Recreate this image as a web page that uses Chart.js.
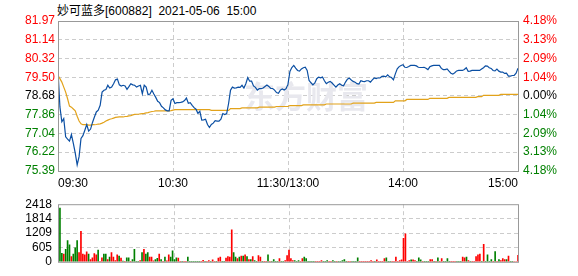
<!DOCTYPE html>
<html>
<head>
<meta charset="utf-8">
<script src="https://cdn.jsdelivr.net/npm/chart.js@4.4.1/dist/chart.umd.min.js"></script>
<style>
  html, body { margin: 0; padding: 0; background: #fff; }
  #wrap { position: relative; width: 578px; height: 276px; overflow: hidden; }
  #title { position: absolute; left: 57px; top: 1px; font: 12px "Liberation Sans", "Noto Sans CJK SC", sans-serif; color: #000; white-space: pre; }
  canvas { position: absolute; left: 0; }
</style>
</head>
<body>
<div id="wrap">
  <div id="title">妙可蓝多[600882]  2021-05-06  15:00</div>
  <canvas id="price" width="578" height="190" style="top:0"></canvas>
  <canvas id="volume" width="578" height="86" style="top:190px"></canvas>
</div>
<script>
// axis ticks
const priceTicks = [75.39, 76.22, 77.04, 77.86, 78.68, 79.50, 80.32, 81.14, 81.97]
const priceTickLabels = ['75.39', '76.22', '77.04', '77.86', '78.68', '79.50', '80.32', '81.14', '81.97']
const pctTickLabels = ['4.18%', '3.13%', '2.09%', '1.04%', '0.00%', '1.04%', '2.09%', '3.13%', '4.18%']
const timeTicks = [0, 60, 120, 180, 240]
const timeLabels = ['09:30', '10:30', '11:30/13:00', '14:00', '15:00']
const volTicks = [0, 605, 1209, 1814, 2418]

// one value per trading minute, 09:30 .. 11:30, 13:01 .. 15:00
const price = [
  79.80, 78.20, 77.55, 77.69, 76.89, 76.79, 76.70, 76.99, 76.60, 76.17, 75.66, 76.02, 76.82, 76.94, 77.18, 77.43, 77.14, 77.23, 77.52, 77.76,
  77.98, 78.06, 78.27, 78.85, 78.93, 78.96, 79.15, 79.03, 79.07, 79.22, 79.39, 79.42, 79.17, 79.12, 79.15, 79.12, 78.97, 79.09, 79.22, 79.17,
  79.15, 79.07, 79.12, 79.15, 78.78, 79.15, 79.07, 78.74, 78.77, 78.93, 78.77, 78.62, 78.45, 78.39, 78.23, 78.16, 78.07, 78.03, 78.03, 78.49,
  78.56, 78.35, 78.39, 78.39, 78.40, 78.42, 78.48, 78.59, 78.36, 78.39, 78.27, 78.17, 78.10, 77.92, 78.01, 77.62, 77.63, 77.66, 77.43, 77.30,
  77.43, 77.49, 77.60, 77.58, 77.58, 77.66, 77.91, 77.87, 77.91, 78.35, 78.93, 79.07, 79.03, 79.04, 79.07, 79.06, 79.15, 79.03, 79.22, 79.49,
  79.33, 79.33, 79.12, 79.06, 78.94, 79.00, 79.00, 79.03, 79.10, 79.16, 79.10, 79.01, 79.01, 78.94, 78.83, 78.80, 78.94, 78.99, 78.94, 79.00,
  79.20, 79.76, 79.93, 80.02, 79.90, 79.80, 79.77, 79.87, 79.92, 79.94, 79.80, 79.36, 79.26, 79.17, 79.25, 79.44, 79.51, 79.48, 79.51, 79.35,
  79.22, 79.28, 79.32, 79.25, 79.16, 79.07, 79.16, 79.22, 79.15, 79.13, 79.29, 79.42, 79.47, 79.38, 79.32, 79.28, 79.22, 79.20, 79.35, 79.32,
  79.31, 79.35, 79.35, 79.29, 79.39, 79.47, 79.44, 79.48, 79.47, 79.54, 79.55, 79.52, 79.61, 79.52, 79.49, 79.39, 79.65, 79.87, 79.97, 80.02,
  80.05, 79.94, 79.93, 79.97, 80.02, 80.02, 80.02, 80.00, 79.94, 79.93, 79.93, 79.94, 79.90, 79.84, 79.96, 80.00, 80.02, 80.02, 80.02, 80.02,
  79.89, 79.84, 79.84, 79.87, 79.77, 79.68, 79.64, 79.70, 79.78, 79.80, 79.80, 79.80, 79.84, 79.92, 79.76, 79.77, 79.80, 79.80, 79.80, 79.80,
  79.80, 79.86, 79.92, 80.00, 79.99, 79.92, 79.89, 79.80, 79.78, 79.86, 79.77, 79.73, 79.73, 79.67, 79.68, 79.55, 79.55, 79.58, 79.58, 79.68, 79.90
]

const avgPrice = [
  79.58, 79.44, 79.29, 79.07, 78.85, 78.56, 78.24, 78.19, 78.11, 78.03, 77.79, 77.58, 77.46, 77.42, 77.42, 77.42, 77.40, 77.40, 77.42, 77.42,
  77.43, 77.45, 77.46, 77.49, 77.53, 77.58, 77.62, 77.66, 77.68, 77.71, 77.74, 77.75, 77.76, 77.76, 77.76, 77.78, 77.79, 77.81, 77.82, 77.85,
  77.87, 77.88, 77.88, 77.90, 77.91, 77.92, 77.94, 77.95, 77.98, 78.00, 78.01, 78.03, 78.03, 78.03, 78.03, 78.03, 78.03, 78.03, 78.03, 78.04,
  78.06, 78.08, 78.08, 78.08, 78.08, 78.08, 78.08, 78.08, 78.08, 78.08, 78.08, 78.08, 78.08, 78.08, 78.08, 78.08, 78.08, 78.08, 78.08, 78.08,
  78.05, 78.05, 78.05, 78.05, 78.05, 78.05, 78.05, 78.05, 78.05, 78.05, 78.13, 78.13, 78.13, 78.13, 78.13, 78.13, 78.16, 78.16, 78.16, 78.16,
  78.16, 78.16, 78.16, 78.16, 78.16, 78.19, 78.19, 78.19, 78.19, 78.19, 78.19, 78.19, 78.19, 78.19, 78.22, 78.22, 78.22, 78.22, 78.22, 78.22,
  78.22, 78.26, 78.26, 78.26, 78.26, 78.26, 78.26, 78.26, 78.29, 78.29, 78.29, 78.29, 78.29, 78.29, 78.29, 78.29, 78.29, 78.29, 78.29, 78.29,
  78.33, 78.33, 78.33, 78.33, 78.33, 78.33, 78.33, 78.33, 78.33, 78.33, 78.33, 78.33, 78.33, 78.33, 78.37, 78.37, 78.37, 78.37, 78.37, 78.37,
  78.37, 78.37, 78.37, 78.37, 78.37, 78.37, 78.40, 78.40, 78.40, 78.40, 78.40, 78.40, 78.40, 78.40, 78.40, 78.40, 78.47, 78.47, 78.47, 78.47,
  78.47, 78.47, 78.53, 78.53, 78.53, 78.53, 78.53, 78.53, 78.53, 78.53, 78.53, 78.53, 78.53, 78.53, 78.58, 78.58, 78.58, 78.58, 78.58, 78.58,
  78.58, 78.58, 78.58, 78.58, 78.62, 78.62, 78.62, 78.62, 78.62, 78.62, 78.62, 78.62, 78.62, 78.62, 78.62, 78.62, 78.62, 78.62, 78.62, 78.65,
  78.65, 78.65, 78.71, 78.71, 78.71, 78.71, 78.71, 78.71, 78.71, 78.71, 78.71, 78.75, 78.75, 78.75, 78.75, 78.75, 78.75, 78.75, 78.75, 78.75, 78.75
]

const volume = [
  2250, 360, 327, 523, 894, 709, 218, 327, 589, 894, 392, 1275, 327, 294, 414, 327, 98, 164, 349, 294,
  490, 22, 164, 327, 327, 98, 196, 392, 196, 55, 294, 240, 153, 33, 22, 164, 164, 22, 98, 523,
  22, 22, 55, 392, 523, 327, 392, 196, 196, 44, 98, 142, 327, 98, 22, 196, 44, 294, 196, 458,
  98, 164, 153, 22, 22, 22, 22, 196, 22, 22, 22, 22, 22, 22, 22, 65, 22, 22, 55, 22,
  87, 22, 22, 153, 196, 22, 22, 153, 218, 196, 1341, 382, 196, 131, 196, 240, 240, 294, 218, 98,
  98, 218, 55, 22, 262, 196, 22, 22, 22, 294, 22, 22, 98, 22, 22, 131, 22, 22, 55, 262,
  490, 131, 55, 55, 22, 55, 22, 131, 196, 131, 22, 22, 22, 22, 22, 22, 22, 55, 22, 22,
  55, 22, 22, 55, 22, 22, 22, 22, 55, 98, 22, 22, 22, 22, 22, 22, 164, 22, 22, 22,
  22, 22, 22, 55, 22, 22, 87, 22, 22, 22, 131, 164, 22, 22, 22, 22, 196, 22, 55, 87,
  981, 1177, 22, 55, 87, 87, 55, 22, 164, 87, 22, 22, 22, 22, 98, 98, 22, 22, 164, 22,
  131, 22, 22, 131, 22, 22, 22, 22, 22, 22, 22, 196, 164, 196, 55, 22, 22, 22, 218, 294,
  327, 22, 730, 22, 294, 22, 98, 22, 425, 22, 98, 55, 131, 98, 98, 240, 22, 22, 0, 0, 273
]

// 1 = traded up (red), 0 = traded down (green)
const volUp = [
  0, 0, 1, 0, 0, 0, 1, 0, 0, 0, 1, 1, 1, 1, 1, 0, 1, 1, 1, 1,
  0, 1, 1, 0, 0, 1, 0, 1, 1, 1, 1, 0, 1, 0, 1, 0, 0, 1, 0, 0,
  0, 0, 1, 0, 1, 0, 0, 1, 1, 1, 0, 0, 1, 0, 1, 0, 1, 1, 0, 0,
  0, 0, 1, 1, 0, 1, 1, 0, 0, 0, 0, 0, 0, 0, 1, 1, 0, 1, 1, 0,
  1, 1, 0, 1, 1, 0, 0, 1, 1, 1, 1, 0, 0, 1, 0, 1, 0, 1, 0, 1,
  0, 1, 0, 0, 1, 1, 0, 1, 1, 0, 1, 0, 0, 0, 0, 1, 0, 0, 1, 1,
  1, 1, 1, 0, 0, 0, 1, 1, 0, 0, 0, 0, 0, 0, 1, 1, 1, 1, 0, 0,
  0, 1, 1, 0, 0, 1, 0, 0, 0, 0, 0, 1, 1, 0, 0, 0, 0, 1, 1, 1,
  1, 1, 1, 1, 1, 0, 1, 1, 1, 1, 1, 0, 0, 0, 1, 1, 1, 1, 1, 1,
  1, 1, 1, 1, 0, 1, 1, 0, 0, 0, 1, 0, 0, 0, 1, 1, 0, 1, 0, 1,
  1, 0, 0, 0, 0, 1, 1, 1, 0, 0, 0, 1, 1, 0, 1, 0, 1, 1, 1, 1,
  1, 0, 1, 0, 0, 0, 0, 1, 0, 1, 0, 1, 1, 1, 0, 1, 0, 0, 1, 1, 1
]

const UP = '#ff0000'
const DOWN = '#008000'
const GRID = '#cccccc'
const font = { family: 'Liberation Sans, Arial, sans-serif', size: 12 }

// grey frame round a panel; shift lets the volume frame line up with the price frame
const panelBorder = shift => ({
  id: 'panelBorder',
  afterDraw(chart) {
    const { ctx, chartArea: a } = chart
    ctx.save()
    ctx.strokeStyle = '#999999'
    ctx.lineWidth = 1
    ctx.strokeRect(a.left + shift + 0.5, a.top + 0.5, a.right - a.left, a.bottom - a.top)
    ctx.restore()
  }
})

// faint site logo behind the price line
const watermark = {
  id: 'watermark',
  beforeDatasetsDraw(chart) {
    const ctx = chart.ctx
    ctx.save()
    ctx.fillStyle = '#e8e8ee'
    ctx.font = 'bold 31px "Noto Sans CJK SC"'
    ctx.textBaseline = 'middle'
    ctx.fillText('东方财富', 244, 96)
    ctx.restore()
  }
}

// tick colour: red above previous close, black at it, green below
const levelColor = ctx => ctx.index > 4 ? UP : ctx.index === 4 ? '#000000' : DOWN
const setTicks = values => scale => { scale.ticks = values.map(v => ({ value: v })) }
const minutes = price.map((_, i) => i)
const hourLines = [60, 120, 180]

new Chart(document.getElementById('price'), {
  type: 'line',
  data: {
    datasets: [
      {
        data: price.map((v, i) => ({ x: i, y: v })),
        borderColor: '#0b4fa3',
        borderWidth: 1.2,
        pointRadius: 0
      },
      {
        data: avgPrice.map((v, i) => ({ x: i, y: v })),
        borderColor: '#e2a21a',
        borderWidth: 1.2,
        pointRadius: 0
      }
    ]
  },
  options: {
    responsive: false,
    animation: false,
    devicePixelRatio: 1,
    layout: { padding: { top: 21 } },
    plugins: { legend: { display: false }, tooltip: { enabled: false } },
    scales: {
      x: {
        type: 'linear',
        min: 0,
        max: 240,
        afterBuildTicks: setTicks(timeTicks),
        afterFit: s => { s.height = 19 },
        grid: { drawTicks: false, color: c => (c.index > 0 && c.index < 4) ? GRID : 'transparent' },
        border: { display: false, dash: [4, 3] },
        ticks: {
          autoSkip: false, maxRotation: 0, align: 'inner', padding: 5,
          color: '#000000', font,
          callback: (v, i) => timeLabels[i]
        }
      },
      y: {
        position: 'left',
        min: priceTicks[0],
        max: priceTicks[priceTicks.length - 1],
        afterBuildTicks: setTicks(priceTicks),
        afterFit: s => { s.width = 58 },
        grid: { drawTicks: false, color: c => (c.index > 0 && c.index < 8) ? GRID : 'transparent' },
        border: { display: false, dash: [4, 3] },
        ticks: { autoSkip: false, padding: 3, font, color: levelColor, callback: (v, i) => priceTickLabels[i] }
      },
      yr: {
        position: 'right',
        min: priceTicks[0],
        max: priceTicks[priceTicks.length - 1],
        afterBuildTicks: setTicks(priceTicks),
        afterFit: s => { s.width = 60 },
        grid: { display: false, drawTicks: false },
        border: { display: false },
        ticks: { autoSkip: false, padding: 5, font, color: levelColor, callback: (v, i) => pctTickLabels[i] }
      }
    }
  },
  plugins: [watermark, panelBorder(0)]
})

new Chart(document.getElementById('volume'), {
  type: 'bar',
  data: {
    labels: minutes,
    datasets: [{
      data: volume,
      backgroundColor: volUp.map(u => u ? UP : DOWN),
      barThickness: 1
    }]
  },
  options: {
    responsive: false,
    animation: false,
    devicePixelRatio: 1,
    layout: { padding: { top: 6, bottom: 6, right: 59 } },
    plugins: { legend: { display: false }, tooltip: { enabled: false } },
    scales: {
      x: {
        type: 'category',
        offset: true,
        grid: { offset: false, drawTicks: false, color: c => hourLines.includes(c.index) ? GRID : 'transparent' },
        border: { display: false, dash: [4, 3] },
        ticks: { display: false, autoSkip: false }
      },
      y: {
        min: 0,
        max: volTicks[volTicks.length - 1],
        afterBuildTicks: setTicks(volTicks),
        afterFit: s => { s.width = 59 },
        grid: { drawTicks: false, color: c => (c.index > 0 && c.index < 4) ? GRID : 'transparent' },
        border: { display: false, dash: [4, 3] },
        ticks: { autoSkip: false, padding: 7, font, color: '#000000', callback: (v, i) => String(volTicks[i]) }
      }
    }
  },
  plugins: [panelBorder(-1)]
})
</script>
</body>
</html>
